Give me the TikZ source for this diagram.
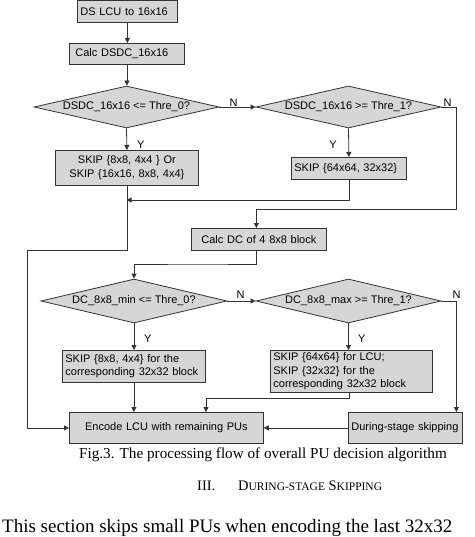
\documentclass[tikz,border=0pt]{standalone}
\usepackage{fontspec}
\setmainfont{Liberation Serif}
\setsansfont{Liberation Sans}
\usetikzlibrary{shapes.geometric,arrows.meta}
\definecolor{linec}{HTML}{333333}
\definecolor{boxc}{HTML}{D6D6D6}
\tikzset{
  flowfont/.style={font=\sffamily\fontsize{11}{13.5}\selectfont},
  box/.style={draw=linec, fill=boxc, line width=0.8pt, flowfont, inner ysep=0pt, inner xsep=3pt, anchor=north west},
  dia/.style={diamond, draw=linec, fill=boxc, line width=0.8pt, flowfont, inner sep=0pt, aspect=4.4, minimum width=185pt},
  conn/.style={draw=linec, line width=0.8pt},
  arr/.style={conn, -{Triangle[length=5pt,width=5pt]}},
  lbl/.style={flowfont, inner sep=0pt}
}
\begin{document}
\begin{tikzpicture}[x=1pt,y=-1pt]
\useasboundingbox (0,0) rectangle (474,537);
\clip (0,0) rectangle (474,537);
\fill[white] (0,0) rectangle (474,537);

% nodes
\node[box, minimum width=100, minimum height=22, text width=94, align=left] (b1) at (77,0.4) {DS LCU to 16x16};
\node[box, minimum width=115, minimum height=21, inner xsep=6pt, text width=103, align=left] (b2) at (69,43) {Calc DSDC\_16x16};
\node[dia, minimum height=42] (d1) at (126.5,107) {DSDC\_16x16 <= Thre\_0?};
\node[dia, minimum height=42] (d2) at (348.5,107) {DSDC\_16x16 >= Thre\_1?};
\node[box, minimum width=143, minimum height=35, text width=137, align=center] (b3) at (55,150) {SKIP \{8x8, 4x4 \} Or\\SKIP \{16x16, 8x8, 4x4\}};
\node[box, minimum width=115, minimum height=22, text width=109, align=left] (b4) at (291,157) {SKIP \{64x64, 32x32\}};
\node[box, minimum width=135, minimum height=22, text width=129, align=center] (b5) at (191,228) {Calc DC of 4 8x8 block};
\node[dia, minimum height=44, minimum width=186] (d3) at (134,301) {DC\_8x8\_min <= Thre\_0?};
\node[dia, minimum height=44] (d4) at (348.5,301) {DC\_8x8\_max >= Thre\_1?};
\node[box, minimum width=143, minimum height=32, text width=137, align=left] (b6) at (62,350) {SKIP \{8x8, 4x4\} for the\\corresponding 32x32 block};
\node[box, minimum width=162, minimum height=42, text width=156, align=left] (b7) at (270,350) {SKIP \{64x64\} for LCU;\\SKIP \{32x32\} for the\\corresponding 32x32 block};
\node[box, minimum width=194, minimum height=31, text width=188, align=center] (b8) at (69,412) {Encode LCU with remaining PUs};
\node[box, minimum width=114, minimum height=31, text width=108, align=left] (b9) at (348,412) {During-stage skipping};

% helper coordinates
\coordinate (c1) at (456,209);
\coordinate (c3) at (27,250);
\coordinate (c4) at (126.5,200);
\coordinate (c5) at (200,264);
\coordinate (c7) at (206,398);

% connectors
\draw[arr] (b1.south) -- (b1.south |- b2.north);
\draw[arr] (b2.south) -- (b2.south |- d1.north);
\draw[arr] (d1.east) -- (d2.west);
\draw[arr] (d1.south) -- (b3.north);
\draw[arr] (d2.south) -- (b4.north);
\draw[arr] (d2.east) -| (c1) -| ([xshift=-2.5pt]b5.north);
\draw[arr] (b3.south) |- (c3) |- (b8.west);
\draw[arr] (b4.south) |- (c4);
\draw[arr] ([xshift=-2.5pt]b5.south) |- (c5) -| (d3.north);
\draw[arr] (d3.east) -- (d4.west);
\draw[arr] (d3.south) -- (d3.south |- b6.north);
\draw[arr] (d4.south) -- (d4.south |- b7.north);
\draw[arr] (d4.east) -| ([xshift=51pt]b9.north);
\draw[arr] (b6.south) -- (b6.south |- b8.north);
\draw[arr] ([xshift=-2pt]b7.south) |- (c7) -- (c7 |- b8.north);
\draw[arr] (b9.west) -- (b8.east);

% labels
\node[lbl, anchor=south west] (n1) at ([xshift=10pt]d1.east) {N};
\node[lbl, anchor=south west] (n2) at ([xshift=2pt]d2.east) {N};
\node[lbl, anchor=south west] (n3) at ([xshift=9pt,yshift=2pt]d3.east) {N};
\node[lbl, anchor=south west] (n4) at ([xshift=11pt,yshift=2pt]d4.east) {N};
\node[lbl, anchor=south west] (y1) at ([xshift=10.5pt,yshift=-20pt]d1.south) {Y};
\node[lbl, anchor=south east] (y2) at ([xshift=-11.5pt,yshift=-20pt]d2.south) {Y};
\node[lbl, anchor=south west] (y3) at ([xshift=10pt,yshift=-19pt]d3.south) {Y};
\node[lbl, anchor=south west] (y4) at ([xshift=9.5pt,yshift=-19pt]d4.south) {Y};

% caption and text
\node[anchor=base, inner sep=0pt, font=\fontsize{15.2}{17}\selectfont] (cap) at (263,458) {Fig.3. The processing flow of overall PU decision algorithm};
\node[anchor=base west, inner sep=0pt, font=\fontsize{14.5}{16}\selectfont] (h1) at (197,490) {III.};
\node[anchor=base west, inner sep=0pt, font=\fontsize{14.5}{16}\selectfont] (h2) at (238,490) {D{\fontsize{11.5}{14}\selectfont URING-STAGE} S{\fontsize{11.5}{14}\selectfont KIPPING}};
\node[anchor=base west, inner sep=0pt, font=\fontsize{19}{22}\selectfont] (t1) at (2,532) {This section skips small PUs when encoding the last 32x32};
\end{tikzpicture}
\end{document}
